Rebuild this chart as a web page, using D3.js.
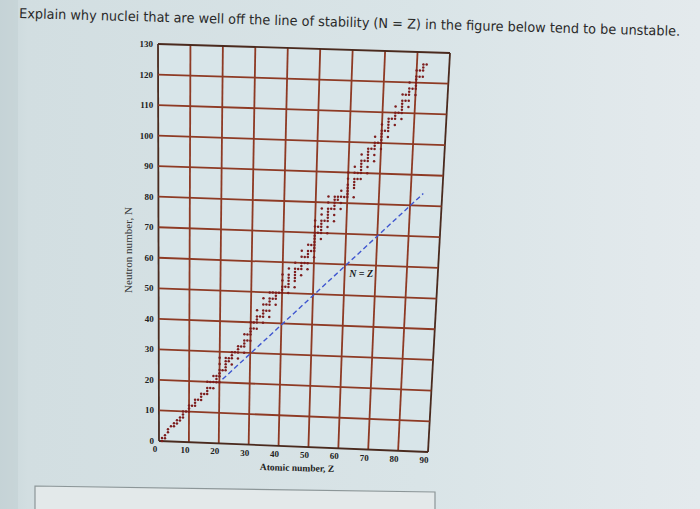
<!DOCTYPE html>
<html><head><meta charset="utf-8">
<script src="https://cdn.jsdelivr.net/npm/d3@7"></script>
<style>html,body{margin:0;padding:0;background:#d5e0e3;}svg{display:block;}</style>
</head><body>
<div id="chart"></div>
<script>
// ---- data ----
const titleText = "Explain why nuclei that are well off the line of stability (N = Z) in the figure below tend to be unstable.";
const xTicks = [0,10,20,30,40,50,60,70,80,90];
const yTicks = [0,10,20,30,40,50,60,70,80,90,100,110,120,130];
const xLabel = "Atomic number, Z";
const yLabel = "Neutron number, N";
const lineLabel = "N = Z";
// stable nuclei: atomic number Z and the neutron numbers N of its stable isotopes
const stableZ = [1,2,3,4,5,6,7,8,9,10,11,12,13,14,15,16,17,18,19,20,21,22,23,24,25,26,27,28,29,30,31,32,33,34,35,36,37,38,39,40,41,42,44,45,46,47,48,49,50,51,52,53,54,55,56,57,58,59,60,62,63,64,65,66,67,68,69,70,71,72,73,74,75,76,77,78,79,80,81,82,83];
const stableN = [
 [0,1],[1,2],[3,4],[5],[5,6],[6,7],[7,8],[8,9,10],[10],[10,11,12],[12],[12,13,14],[14],[14,15,16],[16],[16,17,18,20],[18,20],[18,20,22],[20,21,22],[20,22,23,24,26,28],[24],[24,25,26,27,28],[27,28],[26,28,29,30],[30],[28,30,31,32],[32],[30,32,33,34,36],[34,36],[34,36,37,38,40],[38,40],[38,40,41,42,44],[42],[40,42,43,44,46,48],[44,46],[42,44,46,47,48,50],[48,50],[46,48,49,50],[50],[50,51,52,54,56],[52],[50,52,53,54,55,56,58],[52,54,55,56,57,58,60],[58],[56,58,59,60,62,64],[60,62],[58,60,62,63,64,66],[64,66],[62,64,65,66,67,68,69,70,72,74],[70,72],[68,70,71,72,73,74,76,78],[74],[70,72,74,75,76,77,78,80,82],[78],[74,76,78,79,80,81,82],[81,82],[78,80,82,84],[82],[82,83,84,85,86,88,90],[82,85,86,87,88,90,92],[88,90],[88,90,91,92,93,94,96],[94],[90,92,94,95,96,97,98],[98],[94,96,98,99,100,102],[100],[98,100,101,102,103,104,106],[104],[102,104,105,106,107,108],[108],[106,108,109,110,112],[110],[108,110,111,112,113,114,116],[114,116],[112,114,116,117,118,120],[118],[116,118,119,120,121,122,124],[122,124],[122,124,125,126],[126]
];
const equalLine = [21, 84]; // Z range of dashed N = Z line

// ---- layout ----
const W = 700, H = 509;
const svg = d3.select("#chart").append("svg").attr("width", W).attr("height", H);

const defs = svg.append("defs");
const g1 = defs.append("linearGradient").attr("id","bg").attr("x1","0").attr("x2","1");
g1.append("stop").attr("offset","0").attr("stop-color","#c9d7da");
g1.append("stop").attr("offset","0.04").attr("stop-color","#d2dee1");
g1.append("stop").attr("offset","0.6").attr("stop-color","#d9e4e7");
g1.append("stop").attr("offset","1").attr("stop-color","#e4eaed");
svg.append("rect").attr("width",W).attr("height",H).attr("fill","url(#bg)");

// scales (data -> unit square), then a photo-perspective corner mapping
const xs = d3.scaleLinear().domain([0,90]).range([0,1]);
const ys = d3.scaleLinear().domain([0,130]).range([0,1]);
const BL=[159,441], BR=[428,452], TL=[158,44], TR=[450,53];
function P(z,n){
  const u = xs(z), v = ys(n);
  return [
    (1-u)*(1-v)*BL[0] + u*(1-v)*BR[0] + (1-u)*v*TL[0] + u*v*TR[0],
    (1-u)*(1-v)*BL[1] + u*(1-v)*BR[1] + (1-u)*v*TL[1] + u*v*TR[1]
  ];
}

// title (scaled horizontally to fit the photo's width)
const title = svg.append("text")
  .attr("font-family","DejaVu Sans, Verdana, sans-serif")
  .attr("font-size",13.5).attr("fill","#2a2a2a")
  .text(titleText);
const natural = title.node().getComputedTextLength();
const sx = 662 / natural;
title.attr("transform",`translate(19,18) rotate(1.55) scale(${sx},1)`);

// plot interior
const corners = [P(0,0),P(90,0),P(90,130),P(0,130)];
svg.append("polygon").attr("points",corners.map(p=>p.join(",")).join(" "))
  .attr("fill","#d8e5e9");

// grid
const grid = svg.append("g").attr("stroke","#8e3a24").attr("stroke-width",1.8);
xTicks.forEach(t=>{
  const a=P(t,0), b=P(t,130);
  grid.append("line").attr("x1",a[0]).attr("y1",a[1]).attr("x2",b[0]).attr("y2",b[1])
   .attr("stroke", (t===0||t===90)?"#4a2a1e":"#8e3a24");
});
yTicks.forEach(t=>{
  const a=P(0,t), b=P(90,t);
  grid.append("line").attr("x1",a[0]).attr("y1",a[1]).attr("x2",b[0]).attr("y2",b[1])
   .attr("stroke", (t===0||t===130)?"#4a2a1e":"#8e3a24");
});

// tick labels
const tickFont = "Liberation Serif, Times New Roman, serif";
svg.append("g").selectAll("text").data(xTicks).join("text")
  .attr("x",d=>P(d,0)[0]-4).attr("y",d=>P(d,0)[1]+11)
  .attr("text-anchor","middle").attr("font-family",tickFont).attr("font-weight","bold")
  .attr("font-size",9).attr("fill","#222").text(d=>d);
svg.append("g").selectAll("text").data(yTicks).join("text")
  .attr("x",d=>P(0,d)[0]-5).attr("y",d=>P(0,d)[1]+3)
  .attr("text-anchor","end").attr("font-family",tickFont).attr("font-weight","bold")
  .attr("font-size",9).attr("fill","#222").text(d=>d);

// axis titles
svg.append("text").attr("x",297).attr("y",471).attr("text-anchor","middle")
  .attr("font-family",tickFont).attr("font-weight","bold").attr("font-size",9.5).attr("fill","#222")
  .attr("transform","rotate(1.5,297,471)")
  .text(xLabel);
svg.append("text").attr("transform","translate(132,250) rotate(-90)").attr("text-anchor","middle")
  .attr("font-family",tickFont).attr("font-size",10).attr("fill","#333")
  .attr("textLength",86).attr("lengthAdjust","spacingAndGlyphs")
  .text(yLabel);

// N = Z dashed line
const l0=P(equalLine[0],equalLine[0]), l1=P(equalLine[1],equalLine[1]);
svg.append("line").attr("x1",l0[0]).attr("y1",l0[1]).attr("x2",l1[0]).attr("y2",l1[1])
  .attr("stroke","#3f56d0").attr("stroke-width",1.4).attr("stroke-dasharray","5,3");
const lp = P(61.5,56);
svg.append("text").attr("x",lp[0]).attr("y",lp[1])
  .attr("font-family",tickFont).attr("font-style","italic").attr("font-weight","bold")
  .attr("font-size",10).attr("fill","#1a1a1a").text(lineLabel);

// stable nuclei dots
const pts = [];
stableZ.forEach((z,i)=>stableN[i].forEach(n=>pts.push([z,n])));
svg.append("g").selectAll("circle").data(pts).join("circle")
  .attr("cx",d=>P(d[0],d[1])[0]).attr("cy",d=>P(d[0],d[1])[1])
  .attr("r",1.25).attr("fill","#7d1d1d");

// bottom answer box
svg.append("polygon").attr("points","35,486 435,492 435,512 35,512")
  .attr("fill","#e3e9ea").attr("stroke","#8c9698").attr("stroke-width",1.2);
// dark left screen edge
svg.append("rect").attr("x",0).attr("y",0).attr("width",18).attr("height",H).attr("fill","#c3d1d4").attr("opacity",0.6);
</script>
</body></html>
